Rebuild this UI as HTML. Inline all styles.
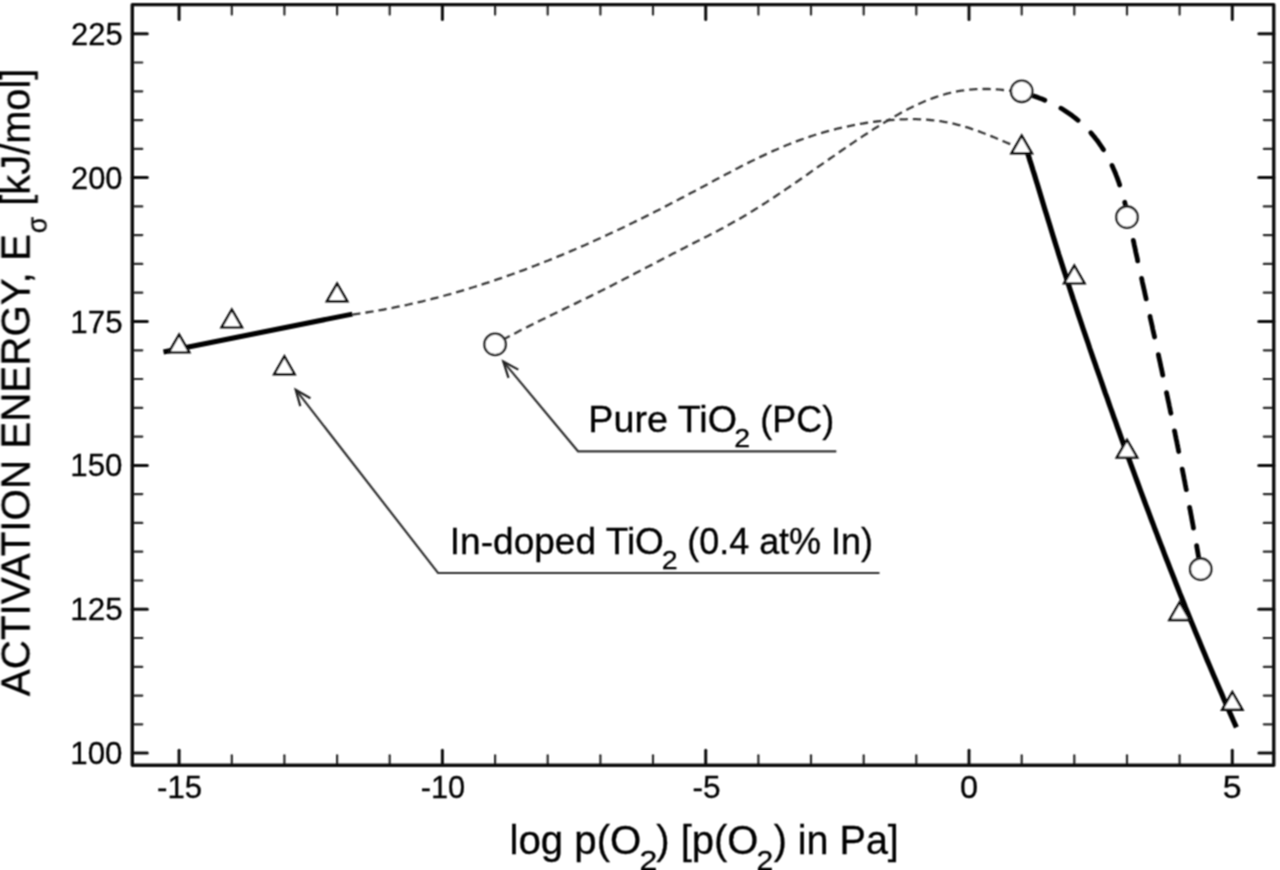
<!DOCTYPE html><html><head><meta charset="utf-8"><title>Activation energy vs log p(O2)</title><style>html,body{margin:0;padding:0;background:#fff;overflow:hidden;}svg{display:block;}</style></head><body>
<svg xmlns="http://www.w3.org/2000/svg" width="1280" height="870" viewBox="0 0 1280 870" font-family="'Liberation Sans', Arial, Helvetica, sans-serif" fill="#000">
<style>text{stroke:#000;stroke-width:0.3px;}</style>
<defs><filter id="soft" x="0" y="0" width="1280" height="870" filterUnits="userSpaceOnUse"><feConvolveMatrix order="3" kernelMatrix="1 2 1 2 4.0 2 1 2 1" edgeMode="duplicate" preserveAlpha="false"/></filter></defs>
<rect width="1280" height="870" fill="#fff"/>
<g filter="url(#soft)">
<g stroke-linecap="round"><line x1="179.1" y1="765.3" x2="179.1" y2="750.3" stroke="#111" stroke-width="3.0"/><line x1="179.1" y1="4.6" x2="179.1" y2="19.6" stroke="#111" stroke-width="3.0"/><line x1="231.8" y1="765.3" x2="231.8" y2="755.3" stroke="#2a2a2a" stroke-width="2.2"/><line x1="231.8" y1="4.6" x2="231.8" y2="14.6" stroke="#2a2a2a" stroke-width="2.2"/><line x1="284.4" y1="765.3" x2="284.4" y2="755.3" stroke="#2a2a2a" stroke-width="2.2"/><line x1="284.4" y1="4.6" x2="284.4" y2="14.6" stroke="#2a2a2a" stroke-width="2.2"/><line x1="337.1" y1="765.3" x2="337.1" y2="755.3" stroke="#2a2a2a" stroke-width="2.2"/><line x1="337.1" y1="4.6" x2="337.1" y2="14.6" stroke="#2a2a2a" stroke-width="2.2"/><line x1="389.7" y1="765.3" x2="389.7" y2="755.3" stroke="#2a2a2a" stroke-width="2.2"/><line x1="389.7" y1="4.6" x2="389.7" y2="14.6" stroke="#2a2a2a" stroke-width="2.2"/><line x1="442.4" y1="765.3" x2="442.4" y2="750.3" stroke="#111" stroke-width="3.0"/><line x1="442.4" y1="4.6" x2="442.4" y2="19.6" stroke="#111" stroke-width="3.0"/><line x1="495.1" y1="765.3" x2="495.1" y2="755.3" stroke="#2a2a2a" stroke-width="2.2"/><line x1="495.1" y1="4.6" x2="495.1" y2="14.6" stroke="#2a2a2a" stroke-width="2.2"/><line x1="547.7" y1="765.3" x2="547.7" y2="755.3" stroke="#2a2a2a" stroke-width="2.2"/><line x1="547.7" y1="4.6" x2="547.7" y2="14.6" stroke="#2a2a2a" stroke-width="2.2"/><line x1="600.4" y1="765.3" x2="600.4" y2="755.3" stroke="#2a2a2a" stroke-width="2.2"/><line x1="600.4" y1="4.6" x2="600.4" y2="14.6" stroke="#2a2a2a" stroke-width="2.2"/><line x1="653.0" y1="765.3" x2="653.0" y2="755.3" stroke="#2a2a2a" stroke-width="2.2"/><line x1="653.0" y1="4.6" x2="653.0" y2="14.6" stroke="#2a2a2a" stroke-width="2.2"/><line x1="705.7" y1="765.3" x2="705.7" y2="750.3" stroke="#111" stroke-width="3.0"/><line x1="705.7" y1="4.6" x2="705.7" y2="19.6" stroke="#111" stroke-width="3.0"/><line x1="758.4" y1="765.3" x2="758.4" y2="755.3" stroke="#2a2a2a" stroke-width="2.2"/><line x1="758.4" y1="4.6" x2="758.4" y2="14.6" stroke="#2a2a2a" stroke-width="2.2"/><line x1="811.0" y1="765.3" x2="811.0" y2="755.3" stroke="#2a2a2a" stroke-width="2.2"/><line x1="811.0" y1="4.6" x2="811.0" y2="14.6" stroke="#2a2a2a" stroke-width="2.2"/><line x1="863.7" y1="765.3" x2="863.7" y2="755.3" stroke="#2a2a2a" stroke-width="2.2"/><line x1="863.7" y1="4.6" x2="863.7" y2="14.6" stroke="#2a2a2a" stroke-width="2.2"/><line x1="916.3" y1="765.3" x2="916.3" y2="755.3" stroke="#2a2a2a" stroke-width="2.2"/><line x1="916.3" y1="4.6" x2="916.3" y2="14.6" stroke="#2a2a2a" stroke-width="2.2"/><line x1="969.0" y1="765.3" x2="969.0" y2="750.3" stroke="#111" stroke-width="3.0"/><line x1="969.0" y1="4.6" x2="969.0" y2="19.6" stroke="#111" stroke-width="3.0"/><line x1="1021.7" y1="765.3" x2="1021.7" y2="755.3" stroke="#2a2a2a" stroke-width="2.2"/><line x1="1021.7" y1="4.6" x2="1021.7" y2="14.6" stroke="#2a2a2a" stroke-width="2.2"/><line x1="1074.3" y1="765.3" x2="1074.3" y2="755.3" stroke="#2a2a2a" stroke-width="2.2"/><line x1="1074.3" y1="4.6" x2="1074.3" y2="14.6" stroke="#2a2a2a" stroke-width="2.2"/><line x1="1127.0" y1="765.3" x2="1127.0" y2="755.3" stroke="#2a2a2a" stroke-width="2.2"/><line x1="1127.0" y1="4.6" x2="1127.0" y2="14.6" stroke="#2a2a2a" stroke-width="2.2"/><line x1="1179.6" y1="765.3" x2="1179.6" y2="755.3" stroke="#2a2a2a" stroke-width="2.2"/><line x1="1179.6" y1="4.6" x2="1179.6" y2="14.6" stroke="#2a2a2a" stroke-width="2.2"/><line x1="1232.3" y1="765.3" x2="1232.3" y2="750.3" stroke="#111" stroke-width="3.0"/><line x1="1232.3" y1="4.6" x2="1232.3" y2="19.6" stroke="#111" stroke-width="3.0"/><line x1="132.3" y1="753.1" x2="147.3" y2="753.1" stroke="#111" stroke-width="3.0"/><line x1="1273.8" y1="753.1" x2="1258.8" y2="753.1" stroke="#111" stroke-width="3.0"/><line x1="132.3" y1="724.3" x2="142.3" y2="724.3" stroke="#2a2a2a" stroke-width="2.2"/><line x1="1273.8" y1="724.3" x2="1263.8" y2="724.3" stroke="#2a2a2a" stroke-width="2.2"/><line x1="132.3" y1="695.6" x2="142.3" y2="695.6" stroke="#2a2a2a" stroke-width="2.2"/><line x1="1273.8" y1="695.6" x2="1263.8" y2="695.6" stroke="#2a2a2a" stroke-width="2.2"/><line x1="132.3" y1="666.8" x2="142.3" y2="666.8" stroke="#2a2a2a" stroke-width="2.2"/><line x1="1273.8" y1="666.8" x2="1263.8" y2="666.8" stroke="#2a2a2a" stroke-width="2.2"/><line x1="132.3" y1="638.0" x2="142.3" y2="638.0" stroke="#2a2a2a" stroke-width="2.2"/><line x1="1273.8" y1="638.0" x2="1263.8" y2="638.0" stroke="#2a2a2a" stroke-width="2.2"/><line x1="132.3" y1="609.2" x2="147.3" y2="609.2" stroke="#111" stroke-width="3.0"/><line x1="1273.8" y1="609.2" x2="1258.8" y2="609.2" stroke="#111" stroke-width="3.0"/><line x1="132.3" y1="580.5" x2="142.3" y2="580.5" stroke="#2a2a2a" stroke-width="2.2"/><line x1="1273.8" y1="580.5" x2="1263.8" y2="580.5" stroke="#2a2a2a" stroke-width="2.2"/><line x1="132.3" y1="551.7" x2="142.3" y2="551.7" stroke="#2a2a2a" stroke-width="2.2"/><line x1="1273.8" y1="551.7" x2="1263.8" y2="551.7" stroke="#2a2a2a" stroke-width="2.2"/><line x1="132.3" y1="522.9" x2="142.3" y2="522.9" stroke="#2a2a2a" stroke-width="2.2"/><line x1="1273.8" y1="522.9" x2="1263.8" y2="522.9" stroke="#2a2a2a" stroke-width="2.2"/><line x1="132.3" y1="494.1" x2="142.3" y2="494.1" stroke="#2a2a2a" stroke-width="2.2"/><line x1="1273.8" y1="494.1" x2="1263.8" y2="494.1" stroke="#2a2a2a" stroke-width="2.2"/><line x1="132.3" y1="465.4" x2="147.3" y2="465.4" stroke="#111" stroke-width="3.0"/><line x1="1273.8" y1="465.4" x2="1258.8" y2="465.4" stroke="#111" stroke-width="3.0"/><line x1="132.3" y1="436.6" x2="142.3" y2="436.6" stroke="#2a2a2a" stroke-width="2.2"/><line x1="1273.8" y1="436.6" x2="1263.8" y2="436.6" stroke="#2a2a2a" stroke-width="2.2"/><line x1="132.3" y1="407.8" x2="142.3" y2="407.8" stroke="#2a2a2a" stroke-width="2.2"/><line x1="1273.8" y1="407.8" x2="1263.8" y2="407.8" stroke="#2a2a2a" stroke-width="2.2"/><line x1="132.3" y1="379.0" x2="142.3" y2="379.0" stroke="#2a2a2a" stroke-width="2.2"/><line x1="1273.8" y1="379.0" x2="1263.8" y2="379.0" stroke="#2a2a2a" stroke-width="2.2"/><line x1="132.3" y1="350.3" x2="142.3" y2="350.3" stroke="#2a2a2a" stroke-width="2.2"/><line x1="1273.8" y1="350.3" x2="1263.8" y2="350.3" stroke="#2a2a2a" stroke-width="2.2"/><line x1="132.3" y1="321.5" x2="147.3" y2="321.5" stroke="#111" stroke-width="3.0"/><line x1="1273.8" y1="321.5" x2="1258.8" y2="321.5" stroke="#111" stroke-width="3.0"/><line x1="132.3" y1="292.7" x2="142.3" y2="292.7" stroke="#2a2a2a" stroke-width="2.2"/><line x1="1273.8" y1="292.7" x2="1263.8" y2="292.7" stroke="#2a2a2a" stroke-width="2.2"/><line x1="132.3" y1="263.9" x2="142.3" y2="263.9" stroke="#2a2a2a" stroke-width="2.2"/><line x1="1273.8" y1="263.9" x2="1263.8" y2="263.9" stroke="#2a2a2a" stroke-width="2.2"/><line x1="132.3" y1="235.1" x2="142.3" y2="235.1" stroke="#2a2a2a" stroke-width="2.2"/><line x1="1273.8" y1="235.1" x2="1263.8" y2="235.1" stroke="#2a2a2a" stroke-width="2.2"/><line x1="132.3" y1="206.4" x2="142.3" y2="206.4" stroke="#2a2a2a" stroke-width="2.2"/><line x1="1273.8" y1="206.4" x2="1263.8" y2="206.4" stroke="#2a2a2a" stroke-width="2.2"/><line x1="132.3" y1="177.6" x2="147.3" y2="177.6" stroke="#111" stroke-width="3.0"/><line x1="1273.8" y1="177.6" x2="1258.8" y2="177.6" stroke="#111" stroke-width="3.0"/><line x1="132.3" y1="148.8" x2="142.3" y2="148.8" stroke="#2a2a2a" stroke-width="2.2"/><line x1="1273.8" y1="148.8" x2="1263.8" y2="148.8" stroke="#2a2a2a" stroke-width="2.2"/><line x1="132.3" y1="120.1" x2="142.3" y2="120.1" stroke="#2a2a2a" stroke-width="2.2"/><line x1="1273.8" y1="120.1" x2="1263.8" y2="120.1" stroke="#2a2a2a" stroke-width="2.2"/><line x1="132.3" y1="91.3" x2="142.3" y2="91.3" stroke="#2a2a2a" stroke-width="2.2"/><line x1="1273.8" y1="91.3" x2="1263.8" y2="91.3" stroke="#2a2a2a" stroke-width="2.2"/><line x1="132.3" y1="62.5" x2="142.3" y2="62.5" stroke="#2a2a2a" stroke-width="2.2"/><line x1="1273.8" y1="62.5" x2="1263.8" y2="62.5" stroke="#2a2a2a" stroke-width="2.2"/><line x1="132.3" y1="33.7" x2="147.3" y2="33.7" stroke="#111" stroke-width="3.0"/><line x1="1273.8" y1="33.7" x2="1258.8" y2="33.7" stroke="#111" stroke-width="3.0"/></g>
<path d="M132.3,4.6 H1273.8 V765.3 H132.3 Z" fill="none" stroke="#111" stroke-width="3.4" stroke-linejoin="round"/>
<text x="157.07" y="797.80" font-size="31" textLength="45.04" lengthAdjust="spacingAndGlyphs" xml:space="preserve">-15</text>
<text x="420.69" y="797.80" font-size="31" textLength="44.42" lengthAdjust="spacingAndGlyphs" xml:space="preserve">-10</text>
<text x="692.40" y="797.80" font-size="31" textLength="28.13" lengthAdjust="spacingAndGlyphs" xml:space="preserve">-5</text>
<text x="960.05" y="797.80" font-size="31" textLength="18.07" lengthAdjust="spacingAndGlyphs" xml:space="preserve">0</text>
<text x="1222.82" y="797.80" font-size="31" textLength="18.83" lengthAdjust="spacingAndGlyphs" xml:space="preserve">5</text>
<text x="70.39" y="764.20" font-size="31" textLength="52.11" lengthAdjust="spacingAndGlyphs" xml:space="preserve">100</text>
<text x="70.38" y="620.33" font-size="31" textLength="52.26" lengthAdjust="spacingAndGlyphs" xml:space="preserve">125</text>
<text x="70.39" y="476.45" font-size="31" textLength="52.11" lengthAdjust="spacingAndGlyphs" xml:space="preserve">150</text>
<text x="70.38" y="332.58" font-size="31" textLength="52.26" lengthAdjust="spacingAndGlyphs" xml:space="preserve">175</text>
<text x="71.09" y="188.70" font-size="31" textLength="51.39" lengthAdjust="spacingAndGlyphs" xml:space="preserve">200</text>
<text x="71.09" y="44.83" font-size="31" textLength="51.54" lengthAdjust="spacingAndGlyphs" xml:space="preserve">225</text>
<text x="509.49" y="853.50" font-size="40" textLength="131.80" lengthAdjust="spacingAndGlyphs" xml:space="preserve">log p(O</text>
<text x="639.54" y="869.60" font-size="28" textLength="17.85" lengthAdjust="spacingAndGlyphs" xml:space="preserve">2</text>
<text x="656.32" y="853.50" font-size="40" textLength="102.13" lengthAdjust="spacingAndGlyphs" xml:space="preserve">) [p(O</text>
<text x="756.44" y="869.60" font-size="28" textLength="16.75" lengthAdjust="spacingAndGlyphs" xml:space="preserve">2</text>
<text x="773.63" y="853.50" font-size="40" textLength="125.23" lengthAdjust="spacingAndGlyphs" xml:space="preserve">) in Pa]</text>
<g transform="translate(29.6,696.0) rotate(-90)">
<text x="-0.21" y="0.00" font-size="40" textLength="462.16" lengthAdjust="spacingAndGlyphs" xml:space="preserve">ACTIVATION ENERGY, E</text>
<text x="462.70" y="16.50" font-size="28" textLength="16.46" lengthAdjust="spacingAndGlyphs" xml:space="preserve">σ</text>
<text x="490.30" y="0.00" font-size="40" textLength="137.08" lengthAdjust="spacingAndGlyphs" xml:space="preserve">[kJ/mol]</text>
</g>
<g fill="none">
<path d="M352.2,314.6 L355.7,314.1 L359.3,313.6 L362.8,313.1 L366.4,312.5 L369.9,311.9 L373.5,311.4 L377.0,310.7 L380.5,310.1 L384.0,309.5 L387.6,308.8 L391.1,308.1 L394.6,307.4 L398.1,306.7 L401.6,306.0 L405.1,305.3 L408.6,304.5 L412.1,303.7 L415.5,302.9 L419.0,302.1 L422.5,301.3 L426.0,300.4 L429.4,299.6 L432.9,298.7 L436.4,297.8 L439.8,296.9 L443.3,296.0 L446.7,295.0 L450.2,294.1 L453.6,293.1 L457.0,292.1 L460.5,291.1 L463.9,290.1 L467.3,289.1 L470.7,288.0 L474.1,287.0 L477.6,285.9 L481.0,284.8 L484.4,283.7 L487.8,282.6 L491.2,281.5 L494.5,280.4 L497.9,279.2 L501.3,278.1 L504.7,276.9 L508.1,275.7 L511.4,274.5 L514.8,273.3 L518.2,272.1 L521.5,270.8 L524.9,269.6 L528.2,268.3 L531.6,267.0 L534.9,265.7 L538.3,264.4 L541.6,263.1 L544.9,261.8 L548.3,260.5 L551.6,259.1 L554.9,257.8 L558.2,256.4 L561.5,255.1 L564.8,253.7 L568.1,252.3 L571.4,250.9 L574.7,249.5 L578.0,248.0 L581.3,246.6 L584.6,245.2 L587.9,243.7 L591.2,242.2 L594.4,240.8 L597.7,239.3 L601.0,237.8 L604.2,236.3 L607.5,234.8 L610.7,233.3 L614.0,231.8 L617.2,230.2 L620.5,228.7 L623.7,227.2 L626.9,225.6 L630.2,224.0 L633.4,222.5 L636.6,220.9 L639.8,219.3 L643.1,217.7 L646.3,216.1 L649.5,214.5 L652.7,212.9 L655.9,211.3 L659.1,209.7 L662.3,208.0 L665.5,206.4 L668.6,204.8 L671.8,203.1 L675.0,201.5 L678.2,199.8 L681.3,198.1 L684.5,196.5 L687.7,194.8 L690.8,193.1 L694.0,191.4 L697.1,189.7 L700.3,188.1 L703.4,186.4 L706.6,184.7 L709.7,183.0 L712.9,181.3 L716.0,179.6 L719.2,177.9 L722.3,176.2 L725.5,174.6 L728.6,172.9 L731.8,171.3 L734.9,169.6 L738.1,168.0 L741.3,166.3 L744.4,164.7 L747.6,163.1 L750.8,161.5 L754.0,160.0 L757.2,158.4 L760.4,156.9 L763.6,155.4 L766.8,153.9 L770.1,152.4 L773.3,150.9 L776.6,149.5 L779.8,148.1 L783.1,146.7 L786.4,145.3 L789.7,144.0 L793.0,142.7 L796.3,141.4 L799.7,140.2 L803.0,139.0 L806.4,137.8 L809.8,136.6 L813.2,135.5 L816.6,134.4 L820.0,133.4 L823.5,132.4 L827.0,131.4 L830.4,130.5 L833.9,129.6 L837.4,128.7 L840.9,127.9 L844.4,127.1 L848.0,126.3 L851.5,125.6 L855.0,124.9 L858.6,124.2 L862.2,123.6 L865.7,123.0 L869.3,122.5 L872.8,122.0 L876.4,121.5 L880.0,121.1 L883.6,120.7 L887.1,120.3 L890.7,120.0 L894.3,119.8 L897.9,119.5 L901.4,119.4 L905.0,119.3 L908.6,119.2 L912.2,119.2 L915.7,119.2 L919.3,119.3 L922.8,119.5 L926.4,119.7 L929.9,120.0 L933.4,120.3 L936.9,120.7 L940.5,121.2 L944.0,121.8 L947.4,122.4 L950.9,123.1 L954.4,123.9 L957.9,124.8 L961.3,125.7 L964.7,126.7 L968.2,127.7 L971.6,128.9 L975.0,130.0 L978.4,131.2 L981.7,132.5 L985.1,133.8 L988.5,135.1 L991.8,136.4 L995.2,137.8 L998.5,139.2 L1001.8,140.6 L1005.1,142.0 L1008.4,143.4 L1011.7,144.8 L1015.0,146.1 L1018.3,147.5 L1021.6,148.8" stroke="#383838" stroke-width="2.3" stroke-dasharray="8.3 5"/>
<path d="M494.8,344.2 L497.4,342.7 L500.0,341.3 L502.6,339.9 L505.2,338.4 L507.9,337.0 L510.5,335.6 L513.1,334.3 L515.8,332.9 L518.4,331.5 L521.1,330.1 L523.7,328.8 L526.4,327.4 L529.0,326.1 L531.7,324.8 L534.4,323.4 L537.0,322.1 L539.7,320.8 L542.4,319.5 L545.1,318.2 L547.8,316.9 L550.4,315.6 L553.1,314.3 L555.8,313.0 L558.5,311.7 L561.2,310.4 L563.8,309.1 L566.5,307.8 L569.2,306.5 L571.9,305.2 L574.6,303.9 L577.3,302.6 L579.9,301.3 L582.6,300.0 L585.3,298.7 L588.0,297.4 L590.6,296.1 L593.3,294.8 L596.0,293.5 L598.6,292.1 L601.3,290.8 L603.9,289.4 L606.6,288.1 L609.3,286.8 L611.9,285.4 L614.6,284.0 L617.2,282.7 L619.9,281.3 L622.5,280.0 L625.2,278.6 L627.8,277.2 L630.4,275.9 L633.1,274.5 L635.7,273.1 L638.4,271.7 L641.0,270.4 L643.7,269.0 L646.3,267.6 L648.9,266.2 L651.6,264.9 L654.2,263.5 L656.9,262.1 L659.5,260.7 L662.2,259.3 L664.8,258.0 L667.4,256.6 L670.1,255.2 L672.7,253.8 L675.4,252.5 L678.0,251.1 L680.7,249.7 L683.4,248.4 L686.0,247.0 L688.7,245.6 L691.3,244.3 L694.0,242.9 L696.7,241.6 L699.3,240.2 L702.0,238.9 L704.6,237.5 L707.3,236.2 L710.0,234.8 L712.6,233.4 L715.3,232.1 L717.9,230.7 L720.5,229.3 L723.2,227.9 L725.8,226.5 L728.4,225.0 L731.0,223.6 L733.6,222.1 L736.2,220.7 L738.8,219.2 L741.4,217.7 L743.9,216.2 L746.5,214.7 L749.0,213.1 L751.6,211.6 L754.1,210.0 L756.6,208.4 L759.1,206.9 L761.6,205.3 L764.1,203.7 L766.6,202.1 L769.1,200.4 L771.6,198.8 L774.1,197.2 L776.6,195.5 L779.0,193.9 L781.5,192.2 L784.0,190.6 L786.4,188.9 L788.9,187.2 L791.3,185.5 L793.8,183.8 L796.2,182.2 L798.7,180.5 L801.1,178.8 L803.6,177.1 L806.0,175.4 L808.4,173.7 L810.9,171.9 L813.3,170.2 L815.8,168.5 L818.2,166.8 L820.6,165.1 L823.1,163.4 L825.5,161.7 L828.0,160.0 L830.4,158.3 L832.9,156.6 L835.3,154.9 L837.8,153.2 L840.2,151.5 L842.7,149.8 L845.1,148.1 L847.6,146.4 L850.1,144.7 L852.5,143.1 L855.0,141.4 L857.5,139.7 L860.0,138.1 L862.5,136.4 L865.0,134.8 L867.5,133.2 L870.0,131.6 L872.5,129.9 L875.0,128.3 L877.6,126.7 L880.1,125.2 L882.7,123.6 L885.2,122.0 L887.8,120.5 L890.3,119.0 L892.9,117.4 L895.5,115.9 L898.1,114.5 L900.7,113.0 L903.3,111.6 L906.0,110.2 L908.6,108.8 L911.3,107.5 L913.9,106.2 L916.6,104.9 L919.3,103.7 L922.0,102.5 L924.7,101.3 L927.5,100.2 L930.2,99.1 L933.0,98.1 L935.7,97.1 L938.5,96.2 L941.3,95.3 L944.1,94.5 L947.0,93.7 L949.8,93.0 L952.7,92.3 L955.5,91.7 L958.4,91.2 L961.4,90.7 L964.3,90.3 L967.2,90.0 L970.2,89.6 L973.1,89.4 L976.1,89.2 L979.1,89.1 L982.1,89.0 L985.1,89.0 L988.1,89.0 L991.1,89.1 L994.1,89.2 L997.1,89.4 L1000.2,89.7 L1003.2,90.0 L1006.2,90.3 L1009.3,90.7 L1012.3,91.2 L1015.4,91.6 L1018.4,92.2 L1021.4,92.8" stroke="#383838" stroke-width="2.3" stroke-dasharray="8.3 5" stroke-dashoffset="4.5"/>
<line x1="163.5" y1="352.0" x2="352.3" y2="314.1" stroke="#000" stroke-width="5"/>
<path d="M1025.1,145.3 L1026.7,150.2 L1028.3,155.1 L1029.8,160.1 L1031.4,165.0 L1032.9,170.0 L1034.5,174.9 L1036.0,179.9 L1037.5,184.8 L1039.0,189.8 L1040.5,194.8 L1042.0,199.8 L1043.5,204.7 L1045.0,209.7 L1046.6,214.7 L1048.1,219.7 L1049.6,224.6 L1051.1,229.6 L1052.6,234.6 L1054.2,239.6 L1055.7,244.5 L1057.3,249.5 L1058.8,254.5 L1060.4,259.4 L1062.0,264.4 L1063.6,269.4 L1065.2,274.3 L1066.8,279.3 L1068.4,284.2 L1070.0,289.2 L1071.6,294.1 L1073.2,299.1 L1074.9,304.0 L1076.5,309.0 L1078.1,313.9 L1079.8,318.9 L1081.5,323.8 L1083.1,328.7 L1084.8,333.7 L1086.5,338.6 L1088.2,343.5 L1089.8,348.5 L1091.5,353.4 L1093.2,358.3 L1094.9,363.2 L1096.6,368.2 L1098.4,373.1 L1100.1,378.0 L1101.8,382.9 L1103.5,387.8 L1105.2,392.8 L1107.0,397.7 L1108.7,402.6 L1110.4,407.5 L1112.2,412.4 L1113.9,417.3 L1115.7,422.2 L1117.4,427.1 L1119.2,432.0 L1120.9,436.9 L1122.7,441.9 L1124.5,446.8 L1126.2,451.6 L1128.0,456.5 L1129.8,461.4 L1131.6,466.3 L1133.4,471.2 L1135.2,476.1 L1137.0,481.0 L1138.8,485.9 L1140.6,490.8 L1142.4,495.7 L1144.2,500.5 L1146.0,505.4 L1147.9,510.3 L1149.7,515.2 L1151.5,520.0 L1153.4,524.9 L1155.2,529.8 L1157.1,534.6 L1158.9,539.5 L1160.8,544.4 L1162.7,549.2 L1164.5,554.1 L1166.4,559.0 L1168.3,563.8 L1170.2,568.7 L1172.1,573.5 L1174.0,578.3 L1175.9,583.2 L1177.8,588.0 L1179.7,592.9 L1181.7,597.7 L1183.6,602.5 L1185.5,607.4 L1187.5,612.2 L1189.4,617.0 L1191.4,621.9 L1193.4,626.7 L1195.3,631.5 L1197.3,636.3 L1199.3,641.1 L1201.3,645.9 L1203.3,650.7 L1205.3,655.5 L1207.3,660.4 L1209.4,665.2 L1211.4,669.9 L1213.4,674.7 L1215.5,679.5 L1217.5,684.3 L1219.6,689.1 L1221.7,693.9 L1223.7,698.7 L1225.8,703.4 L1227.9,708.2 L1230.0,713.0 L1232.1,717.7 L1234.2,722.5 L1236.4,727.3" stroke="#000" stroke-width="5.2"/>
<path d="M1020.1,92.3 L1022.0,92.7 L1023.8,93.2 L1025.6,93.6 L1027.4,94.1 L1029.2,94.6 L1031.0,95.2 L1032.8,95.7 L1034.5,96.3 L1036.3,96.9 L1038.0,97.5 L1039.8,98.2 L1041.5,98.8 L1043.2,99.5 L1044.9,100.2 L1046.6,100.9 L1048.2,101.7 L1049.9,102.4 L1051.6,103.2 L1053.2,104.0 L1054.8,104.8 L1056.4,105.7 L1058.0,106.5 L1059.6,107.4 L1061.1,108.3 L1062.7,109.3 L1064.2,110.2 L1065.7,111.2 L1067.2,112.2 L1068.7,113.2 L1070.2,114.2 L1071.6,115.2 L1073.0,116.3 L1074.4,117.4 L1075.8,118.5 L1077.2,119.6 L1078.6,120.7 L1079.9,121.9 L1081.2,123.0 L1082.5,124.2 L1083.8,125.4 L1085.1,126.7 L1086.3,127.9 L1087.5,129.2 L1088.7,130.5 L1089.9,131.8 L1091.1,133.1 L1092.2,134.4 L1093.3,135.7 L1094.5,137.1 L1095.5,138.5 L1096.6,139.8 L1097.7,141.2 L1098.7,142.7 L1099.7,144.1 L1100.7,145.5 L1101.7,147.0 L1102.6,148.5 L1103.6,149.9 L1104.5,151.4 L1105.4,152.9 L1106.3,154.5 L1107.2,156.0 L1108.0,157.5 L1108.8,159.1 L1109.6,160.6 L1110.4,162.2 L1111.2,163.8 L1112.0,165.4 L1112.7,167.0 L1113.4,168.6 L1114.1,170.2 L1114.8,171.8 L1115.5,173.5 L1116.1,175.1 L1116.8,176.8 L1117.4,178.4 L1118.0,180.1 L1118.6,181.8 L1119.2,183.5 L1119.7,185.2 L1120.3,186.8 L1120.8,188.6 L1121.4,190.3 L1121.9,192.0 L1122.4,193.7 L1122.9,195.4 L1123.4,197.1 L1123.8,198.9 L1124.3,200.6 L1124.8,202.4 L1125.2,204.1 L1125.7,205.8 L1126.1,207.6 L1126.5,209.4 L1126.9,211.1 L1127.4,212.9 L1127.8,214.6 L1128.2,216.4 L1128.6,218.2 L1129.0,219.9 L1129.3,221.7 L1129.7,223.5 L1130.1,225.2 L1130.5,227.0 L1130.9,228.8 L1131.3,230.5 L1131.6,232.3 L1132.0,234.1 L1132.4,235.9 L1132.7,237.6 L1133.1,239.4 L1133.5,241.2 L1133.9,242.9 L1134.2,244.7 L1134.6,246.4 L1135.0,248.2 L1135.4,250.0 L1135.7,251.7 L1136.1,253.5 L1136.5,255.2 L1136.9,257.0 L1137.3,258.7 L1137.6,260.5 L1138.0,262.2 L1138.4,264.0 L1138.8,265.7 L1139.2,267.5 L1139.6,269.2 L1139.9,271.0 L1140.3,272.7 L1140.7,274.4 L1141.1,276.2 L1141.5,277.9 L1141.9,279.7 L1142.2,281.4 L1142.6,283.2 L1143.0,284.9 L1143.4,286.6 L1143.8,288.4 L1144.2,290.1 L1144.6,291.9 L1144.9,293.6 L1145.3,295.3 L1145.7,297.1 L1146.1,298.8 L1146.5,300.6 L1146.9,302.3 L1147.3,304.0 L1147.6,305.8 L1148.0,307.5 L1148.4,309.3 L1148.8,311.0 L1149.2,312.8 L1149.6,314.5 L1150.0,316.2 L1150.3,318.0 L1150.7,319.7 L1151.1,321.5 L1151.5,323.2 L1151.9,325.0 L1152.3,326.7 L1152.6,328.4 L1153.0,330.2 L1153.4,331.9 L1153.8,333.7 L1154.2,335.4 L1154.6,337.2 L1154.9,338.9 L1155.3,340.7 L1155.7,342.4 L1156.1,344.2 L1156.5,345.9 L1156.8,347.7 L1157.2,349.4 L1157.6,351.1 L1158.0,352.9 L1158.4,354.6 L1158.7,356.4 L1159.1,358.1 L1159.5,359.9 L1159.9,361.6 L1160.3,363.4 L1160.6,365.1 L1161.0,366.9 L1161.4,368.6 L1161.8,370.4 L1162.1,372.1 L1162.5,373.9 L1162.9,375.6 L1163.3,377.4 L1163.6,379.1 L1164.0,380.9 L1164.4,382.6 L1164.8,384.4 L1165.1,386.1 L1165.5,387.9 L1165.9,389.6 L1166.3,391.4 L1166.6,393.1 L1167.0,394.9 L1167.4,396.6 L1167.7,398.4 L1168.1,400.1 L1168.5,401.9 L1168.9,403.7 L1169.2,405.4 L1169.6,407.2 L1170.0,408.9 L1170.3,410.7 L1170.7,412.4 L1171.1,414.2 L1171.4,415.9 L1171.8,417.7 L1172.2,419.4 L1172.5,421.2 L1172.9,422.9 L1173.2,424.7 L1173.6,426.5 L1174.0,428.2 L1174.3,430.0 L1174.7,431.7 L1175.1,433.5 L1175.4,435.2 L1175.8,437.0 L1176.1,438.7 L1176.5,440.5 L1176.9,442.3 L1177.2,444.0 L1177.6,445.8 L1177.9,447.5 L1178.3,449.3 L1178.6,451.0 L1179.0,452.8 L1179.3,454.5 L1179.7,456.3 L1180.0,458.1 L1180.4,459.8 L1180.7,461.6 L1181.1,463.3 L1181.4,465.1 L1181.8,466.8 L1182.1,468.6 L1182.5,470.4 L1182.8,472.1 L1183.2,473.9 L1183.5,475.6 L1183.9,477.4 L1184.2,479.2 L1184.6,480.9 L1184.9,482.7 L1185.2,484.4 L1185.6,486.2 L1185.9,487.9 L1186.3,489.7 L1186.6,491.5 L1186.9,493.2 L1187.3,495.0 L1187.6,496.7 L1188.0,498.5 L1188.3,500.3 L1188.6,502.0 L1189.0,503.8 L1189.3,505.5 L1189.6,507.3 L1189.9,509.0 L1190.3,510.8 L1190.6,512.6 L1190.9,514.3 L1191.3,516.1 L1191.6,517.8 L1191.9,519.6 L1192.2,521.4 L1192.6,523.1 L1192.9,524.9 L1193.2,526.6 L1193.5,528.4 L1193.9,530.2 L1194.2,531.9 L1194.5,533.7 L1194.8,535.4 L1195.1,537.2 L1195.4,539.0 L1195.8,540.7 L1196.1,542.5 L1196.4,544.2 L1196.7,546.0 L1197.0,547.8 L1197.3,549.5 L1197.6,551.3 L1197.9,553.0 L1198.2,554.8 L1198.5,556.6 L1198.9,558.3 L1199.2,560.1 L1199.5,561.8 L1199.8,563.6 L1200.1,565.4 L1200.4,567.1 L1200.7,568.9" stroke="#000" stroke-width="4.8" stroke-dasharray="21 18" stroke-dashoffset="34" stroke-linecap="round"/>
</g>
<path d="M503.3,361.6 L578.0,451.3 L836.3,451.3" fill="none" stroke="#333" stroke-width="2.2"/><path d="M508.5,377.8 L503.3,361.6 L518.3,369.6" fill="none" stroke="#222" stroke-width="2.2"/>
<path d="M295.7,389.7 L438.0,573.0 L879.5,573.0" fill="none" stroke="#333" stroke-width="2.2"/><path d="M300.3,406.1 L295.7,389.7 L310.4,398.2" fill="none" stroke="#222" stroke-width="2.2"/>
<text x="588.39" y="431.60" font-size="36" textLength="148.61" lengthAdjust="spacingAndGlyphs" xml:space="preserve">Pure TiO</text>
<text x="734.25" y="446.90" font-size="25" textLength="15.87" lengthAdjust="spacingAndGlyphs" xml:space="preserve">2</text>
<text x="760.32" y="431.60" font-size="36" textLength="73.78" lengthAdjust="spacingAndGlyphs" xml:space="preserve">(PC)</text>
<text x="449.84" y="553.50" font-size="36" textLength="214.09" lengthAdjust="spacingAndGlyphs" xml:space="preserve">In-doped TiO</text>
<text x="661.75" y="569.40" font-size="25" textLength="15.87" lengthAdjust="spacingAndGlyphs" xml:space="preserve">2</text>
<text x="687.22" y="553.50" font-size="36" textLength="185.78" lengthAdjust="spacingAndGlyphs" xml:space="preserve">(0.4 at% In)</text>
<path d="M168.9,352.4 L189.3,352.4 L179.1,334.7 Z" fill="#fff" stroke="#111" stroke-width="2.4"/>
<path d="M221.6,327.4 L242.0,327.4 L231.8,309.7 Z" fill="#fff" stroke="#111" stroke-width="2.4"/>
<path d="M274.2,374.2 L294.6,374.2 L284.4,356.5 Z" fill="#fff" stroke="#111" stroke-width="2.4"/>
<path d="M326.9,301.3 L347.3,301.3 L337.1,283.6 Z" fill="#fff" stroke="#111" stroke-width="2.4"/>
<path d="M1011.5,153.3 L1031.9,153.3 L1021.7,135.6 Z" fill="#fff" stroke="#111" stroke-width="2.4"/>
<path d="M1064.1,283.4 L1084.5,283.4 L1074.3,265.7 Z" fill="#fff" stroke="#111" stroke-width="2.4"/>
<path d="M1116.8,457.6 L1137.2,457.6 L1127.0,439.9 Z" fill="#fff" stroke="#111" stroke-width="2.4"/>
<path d="M1169.4,620.0 L1189.8,620.0 L1179.6,602.3 Z" fill="#fff" stroke="#111" stroke-width="2.4"/>
<path d="M1222.1,709.8 L1242.5,709.8 L1232.3,692.1 Z" fill="#fff" stroke="#111" stroke-width="2.4"/>
<circle cx="495.1" cy="344.4" r="10.7" fill="#fff" stroke="#2a2a2a" stroke-width="2.3"/>
<circle cx="1021.7" cy="91.3" r="10.7" fill="#fff" stroke="#2a2a2a" stroke-width="2.3"/>
<circle cx="1127.0" cy="217.2" r="10.7" fill="#fff" stroke="#2a2a2a" stroke-width="2.3"/>
<circle cx="1200.7" cy="569.2" r="10.7" fill="#fff" stroke="#2a2a2a" stroke-width="2.3"/>
</g></svg></body></html>
